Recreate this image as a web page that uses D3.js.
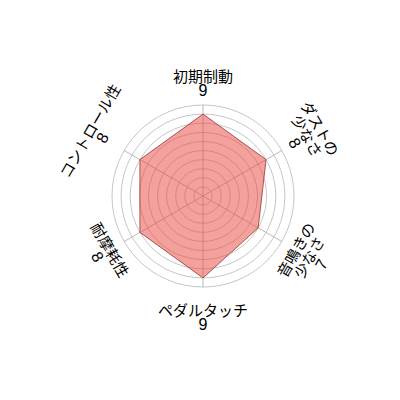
<!DOCTYPE html>
<html>
<head>
<meta charset="utf-8">
<script src="https://cdn.jsdelivr.net/npm/d3@7"></script>
<style>
  body { margin: 0; background: #fff; }
  .label { font-family: "Noto Sans CJK JP", "Noto Sans", sans-serif; font-size: 15px; fill: #000; }
  .label .score { font-family: "Liberation Sans", Arial, sans-serif; font-size: 16px; }
</style>
</head>
<body>
<svg width="400" height="400"></svg>
<script>
const axisNames = [
  ['初期制動'],
  ['ダストの', '少なさ'],
  ['音鳴きの', '少なさ'],
  ['ペダルタッチ'],
  ['耐摩耗性'],
  ['コントロール性']
];
const scores = [9, 8, 7, 9, 8, 8];
const gridLevels = [1, 2, 3, 4, 5, 6, 7, 8, 9, 10];
const maxValue = 10;

const svg = d3.select('svg');
const cx = 203, cy = 196;
const radius = 91;
const lineGap = 15;

const rScale = d3.scaleLinear().domain([0, maxValue]).range([0, radius]);
const angleScale = d3.scaleLinear().domain([0, axisNames.length]).range([0, 2 * Math.PI]);

const g = svg.append('g').attr('transform', `translate(${cx}, ${cy})`);

// grid circles
g.selectAll('circle.grid').data(gridLevels)
  .enter().append('circle')
    .attr('class', 'grid')
    .attr('r', d => rScale(d))
    .attr('fill', 'none')
    .attr('stroke', '#b8b8b8')
    .attr('stroke-width', 0.8);

// spokes
g.selectAll('line.spoke').data(axisNames)
  .enter().append('line')
    .attr('class', 'spoke')
    .attr('x1', 0).attr('y1', 0)
    .attr('x2', (d, i) => rScale(maxValue) * Math.sin(angleScale(i)))
    .attr('y2', (d, i) => -rScale(maxValue) * Math.cos(angleScale(i)))
    .attr('stroke', '#a8a8a8')
    .attr('stroke-width', 0.8);

// score polygon
const radar = d3.lineRadial()
  .angle((d, i) => angleScale(i))
  .radius(d => rScale(d))
  .curve(d3.curveLinearClosed);

g.append('path')
  .datum(scores)
  .attr('d', radar)
  .attr('fill', 'rgba(234, 66, 58, 0.5)')
  .attr('stroke', '#a85450')
  .attr('stroke-width', 1);

// labels: name lines + score, rotated perpendicular to the spoke
const labels = g.selectAll('g.label').data(axisNames)
  .enter().append('g')
    .attr('class', 'label');

labels.each(function(name, i) {
  const lines = name.concat([String(scores[i])]);
  const t = d3.select(this).append('text')
    .attr('text-anchor', 'middle')
    .attr('dominant-baseline', 'central');
  lines.forEach((txt, k) => {
    t.append('tspan')
      .attr('class', k === lines.length - 1 ? 'score' : 'name')
      .attr('x', 0)
      .attr('y', (k - (lines.length - 1) / 2) * lineGap)
      .text(txt);
  });

  const w = d3.max(t.selectAll('tspan').nodes(), n => n.getComputedTextLength());
  const deg = angleScale(i) * 180 / Math.PI;
  const rot = (deg > 90 && deg < 270) ? deg - 180 : deg;
  const rc = 100 + 0.23 * w + 7.5 * (lines.length - 2);
  const a = angleScale(i);
  d3.select(this)
    .attr('transform', `translate(${rc * Math.sin(a)}, ${-rc * Math.cos(a)}) rotate(${rot})`);
});
</script>
</body>
</html>
